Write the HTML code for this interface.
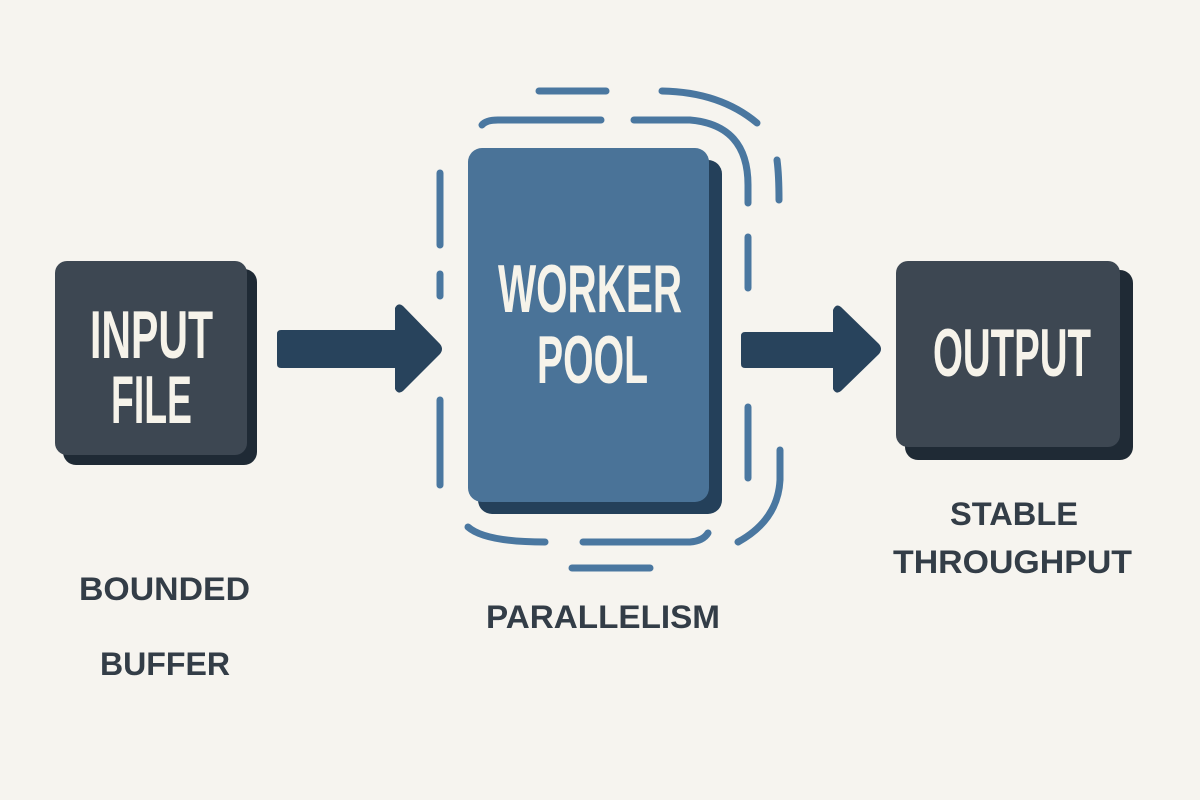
<!DOCTYPE html>
<html><head><meta charset="utf-8"><style>
html,body{margin:0;padding:0;background:#f6f4ef;}
svg{display:block}
.big{font-family:"Liberation Sans Narrow","Liberation Sans",sans-serif;font-weight:bold;fill:#f6f3ea;font-size:68px}
.lab{font-family:"Liberation Sans",sans-serif;font-weight:bold;fill:#333d47;font-size:32px}
</style></head><body>
<svg width="1200" height="800" viewBox="0 0 1200 800" xmlns="http://www.w3.org/2000/svg">
<rect width="1200" height="800" fill="#f6f4ef"/>
<!-- input box -->
<rect x="63" y="269" width="194" height="196" rx="13" fill="#1f2a35"/>
<rect x="55" y="261" width="192" height="194" rx="12" fill="#3d4752"/>
<text class="big" x="90" y="358" textLength="123" lengthAdjust="spacingAndGlyphs">INPUT</text>
<text class="big" x="111" y="423" textLength="81" lengthAdjust="spacingAndGlyphs">FILE</text>
<!-- arrow 1 -->
<path d="M281 330 H395 V308 Q398 302 403 306 L440 344 Q444 349 440 354 L403 391 Q398 395 395 389 V368 H281 Q277 368 277 364 V334 Q277 330 281 330 Z" fill="#28435c"/>
<!-- worker box -->
<rect x="478" y="160" width="244" height="354" rx="14" fill="#24405a"/>
<rect x="468" y="148" width="241" height="354" rx="14" fill="#4a7398"/>
<text class="big" x="498" y="312" textLength="184" lengthAdjust="spacingAndGlyphs">WORKER</text>
<text class="big" x="537" y="383" textLength="111" lengthAdjust="spacingAndGlyphs">POOL</text>
<!-- dashes -->
<g fill="none" stroke="#4a77a0" stroke-width="7" stroke-linecap="round">
<path d="M539 91 H606"/>
<path d="M662 91 Q720 92 757 123"/>
<path d="M482 125 Q486 120 498 120 H601"/>
<path d="M634 120 H690 Q748 125 748 185 V203"/>
<path d="M777 160 Q779 175 779 200"/>
<path d="M748 237 V288"/>
<path d="M748 407 V478"/>
<path d="M780 450 V480 Q778 520 738 542"/>
<path d="M440 173 V245"/>
<path d="M440 274 V296"/>
<path d="M440 400 V485"/>
<path d="M468 527 Q485 542 545 542"/>
<path d="M583 542 H690 Q703 541 708 533"/>
<path d="M572 568 H650"/>
</g>
<!-- arrow 2 -->
<path d="M745 332 H833 V310 Q836 303 841 307 L879 344 Q883 349 879 354 L841 391 Q836 395 833 389 V368 H745 Q741 368 741 364 V336 Q741 332 745 332 Z" fill="#28435c"/>
<!-- output box -->
<rect x="905" y="270" width="228" height="190" rx="13" fill="#1f2a35"/>
<rect x="896" y="261" width="224" height="186" rx="12" fill="#3d4752"/>
<text class="big" x="933" y="376" font-size="70" textLength="158" lengthAdjust="spacingAndGlyphs">OUTPUT</text>
<!-- labels -->
<text class="lab" x="79" y="600" textLength="171" lengthAdjust="spacingAndGlyphs">BOUNDED</text>
<text class="lab" x="100" y="675" textLength="130" lengthAdjust="spacingAndGlyphs">BUFFER</text>
<text class="lab" x="486" y="628" textLength="234" lengthAdjust="spacingAndGlyphs">PARALLELISM</text>
<text class="lab" x="950" y="525" textLength="128" lengthAdjust="spacingAndGlyphs">STABLE</text>
<text class="lab" x="893" y="573" textLength="239" lengthAdjust="spacingAndGlyphs">THROUGHPUT</text>
</svg>
</body></html>
